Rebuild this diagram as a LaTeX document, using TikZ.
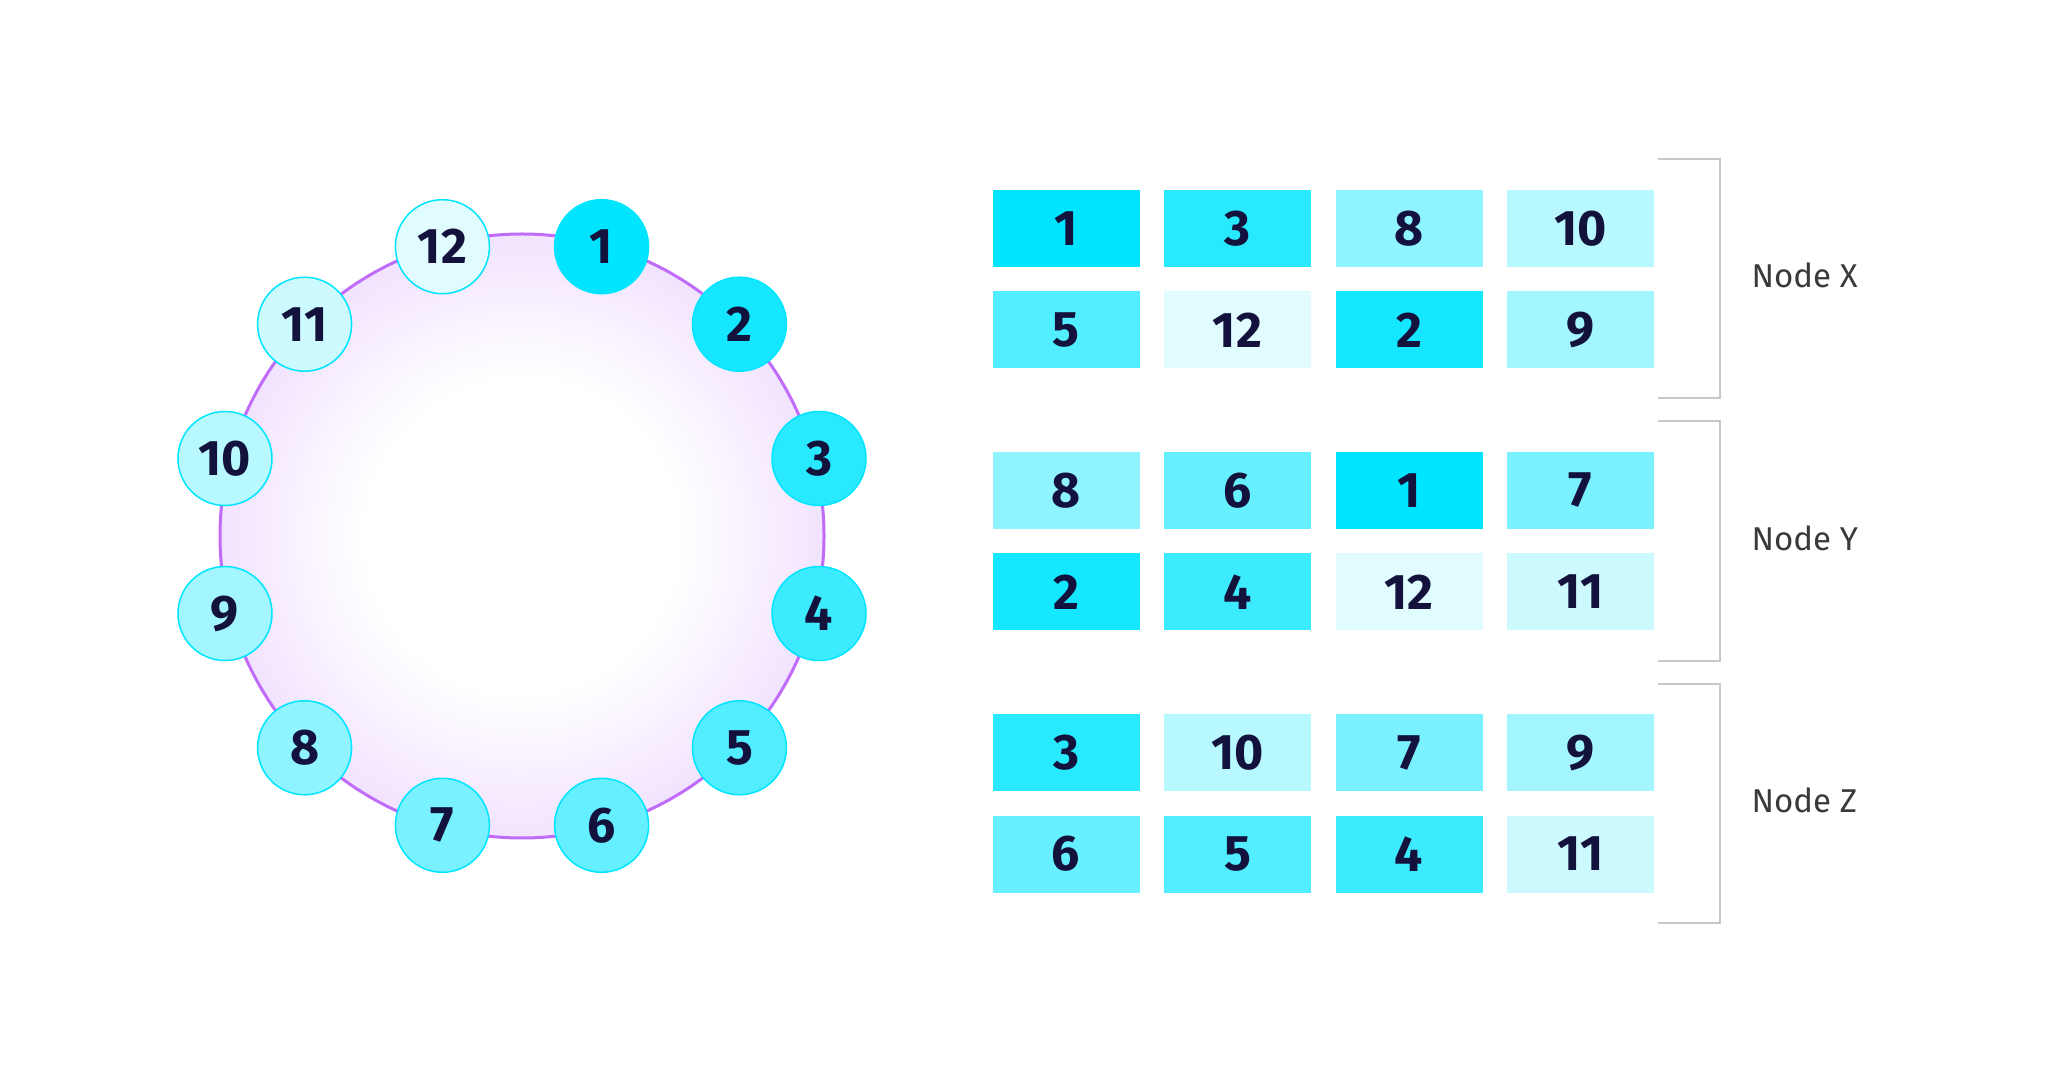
\documentclass[tikz,border=0pt]{standalone}
\usepackage{fontspec}
\setmainfont{Fira Sans}
\definecolor{ringcyan}{HTML}{00E5FF}
\definecolor{ringpurple}{HTML}{C06CF8}
\definecolor{ringfade}{HTML}{F2E3FE}
\definecolor{ink}{HTML}{12123C}
\definecolor{bracketgrey}{HTML}{C8C8C8}
\definecolor{labelgrey}{HTML}{3A3A3A}
\pgfdeclareradialshading{ringshade}{\pgfpoint{0bp}{0bp}}{color(0bp)=(white); color(13bp)=(white); color(25bp)=(ringfade); color(50bp)=(ringfade)}
\tikzset{
  token/.style={circle, minimum size=94pt, inner sep=0pt, draw=ringcyan, line width=1.5pt, text=ink, font=\fontsize{50}{60}\selectfont\bfseries},
  slot/.style={rectangle, minimum width=147pt, minimum height=77pt, inner sep=0pt, text=ink, font=\fontsize{50}{60}\selectfont\bfseries},
  brace/.style={draw=bracketgrey, line width=1.8pt},
  owner/.style={anchor=west, text=labelgrey, font=\fontsize{33}{40}\selectfont}
}
\begin{document}
\begin{tikzpicture}[x=1pt, y=1pt]
    \useasboundingbox (0,0) rectangle (2048,1072);
    % the ring
    \coordinate (ring) at (522,536);
    \shade[shading=ringshade] (ring) circle (302);
    \draw[draw=ringpurple, line width=3pt] (ring) circle (302);
    \foreach \n in {1,...,12} {
      \pgfmathtruncatemacro\p{100-8*(\n-1)}
      \node[token, fill=ringcyan!\p!white] (c\n) at ([shift={(105-30*\n:307.5 and 299.5)}]ring) {\n};
    }
    % the slots of each node
    \foreach \row/\y/\a/\b/\c/\d in {1/843.5/1/3/8/10, 2/742/5/12/2/9, 3/581.5/8/6/1/7, 4/480/2/4/12/11, 5/319.5/3/10/7/9, 6/218/6/5/4/11}
    \foreach \col/\x/\n in {1/1066/\a, 2/1237.5/\b, 3/1409/\c, 4/1580.5/\d} {
      \pgfmathtruncatemacro\p{100-8*(\n-1)}
      \node[slot, fill=ringcyan!\p!white] (s\row-\col) at (\x,\y) {\n};
    }
    % brackets and labels
    \foreach \g/\lbl/\top/\bot in {1/X/913/674, 2/Y/651/411, 3/Z/388/149} {
      \coordinate (b\g a) at (1658,\top);
      \coordinate (b\g b) at (1658,\bot);
      \draw[brace] (b\g a) -- ++(62,0) |- (b\g b);
      \node[owner] (n\lbl) at (1748,{(\top+\bot)/2+3}) {Node \lbl};
    }
\end{tikzpicture}
\end{document}
